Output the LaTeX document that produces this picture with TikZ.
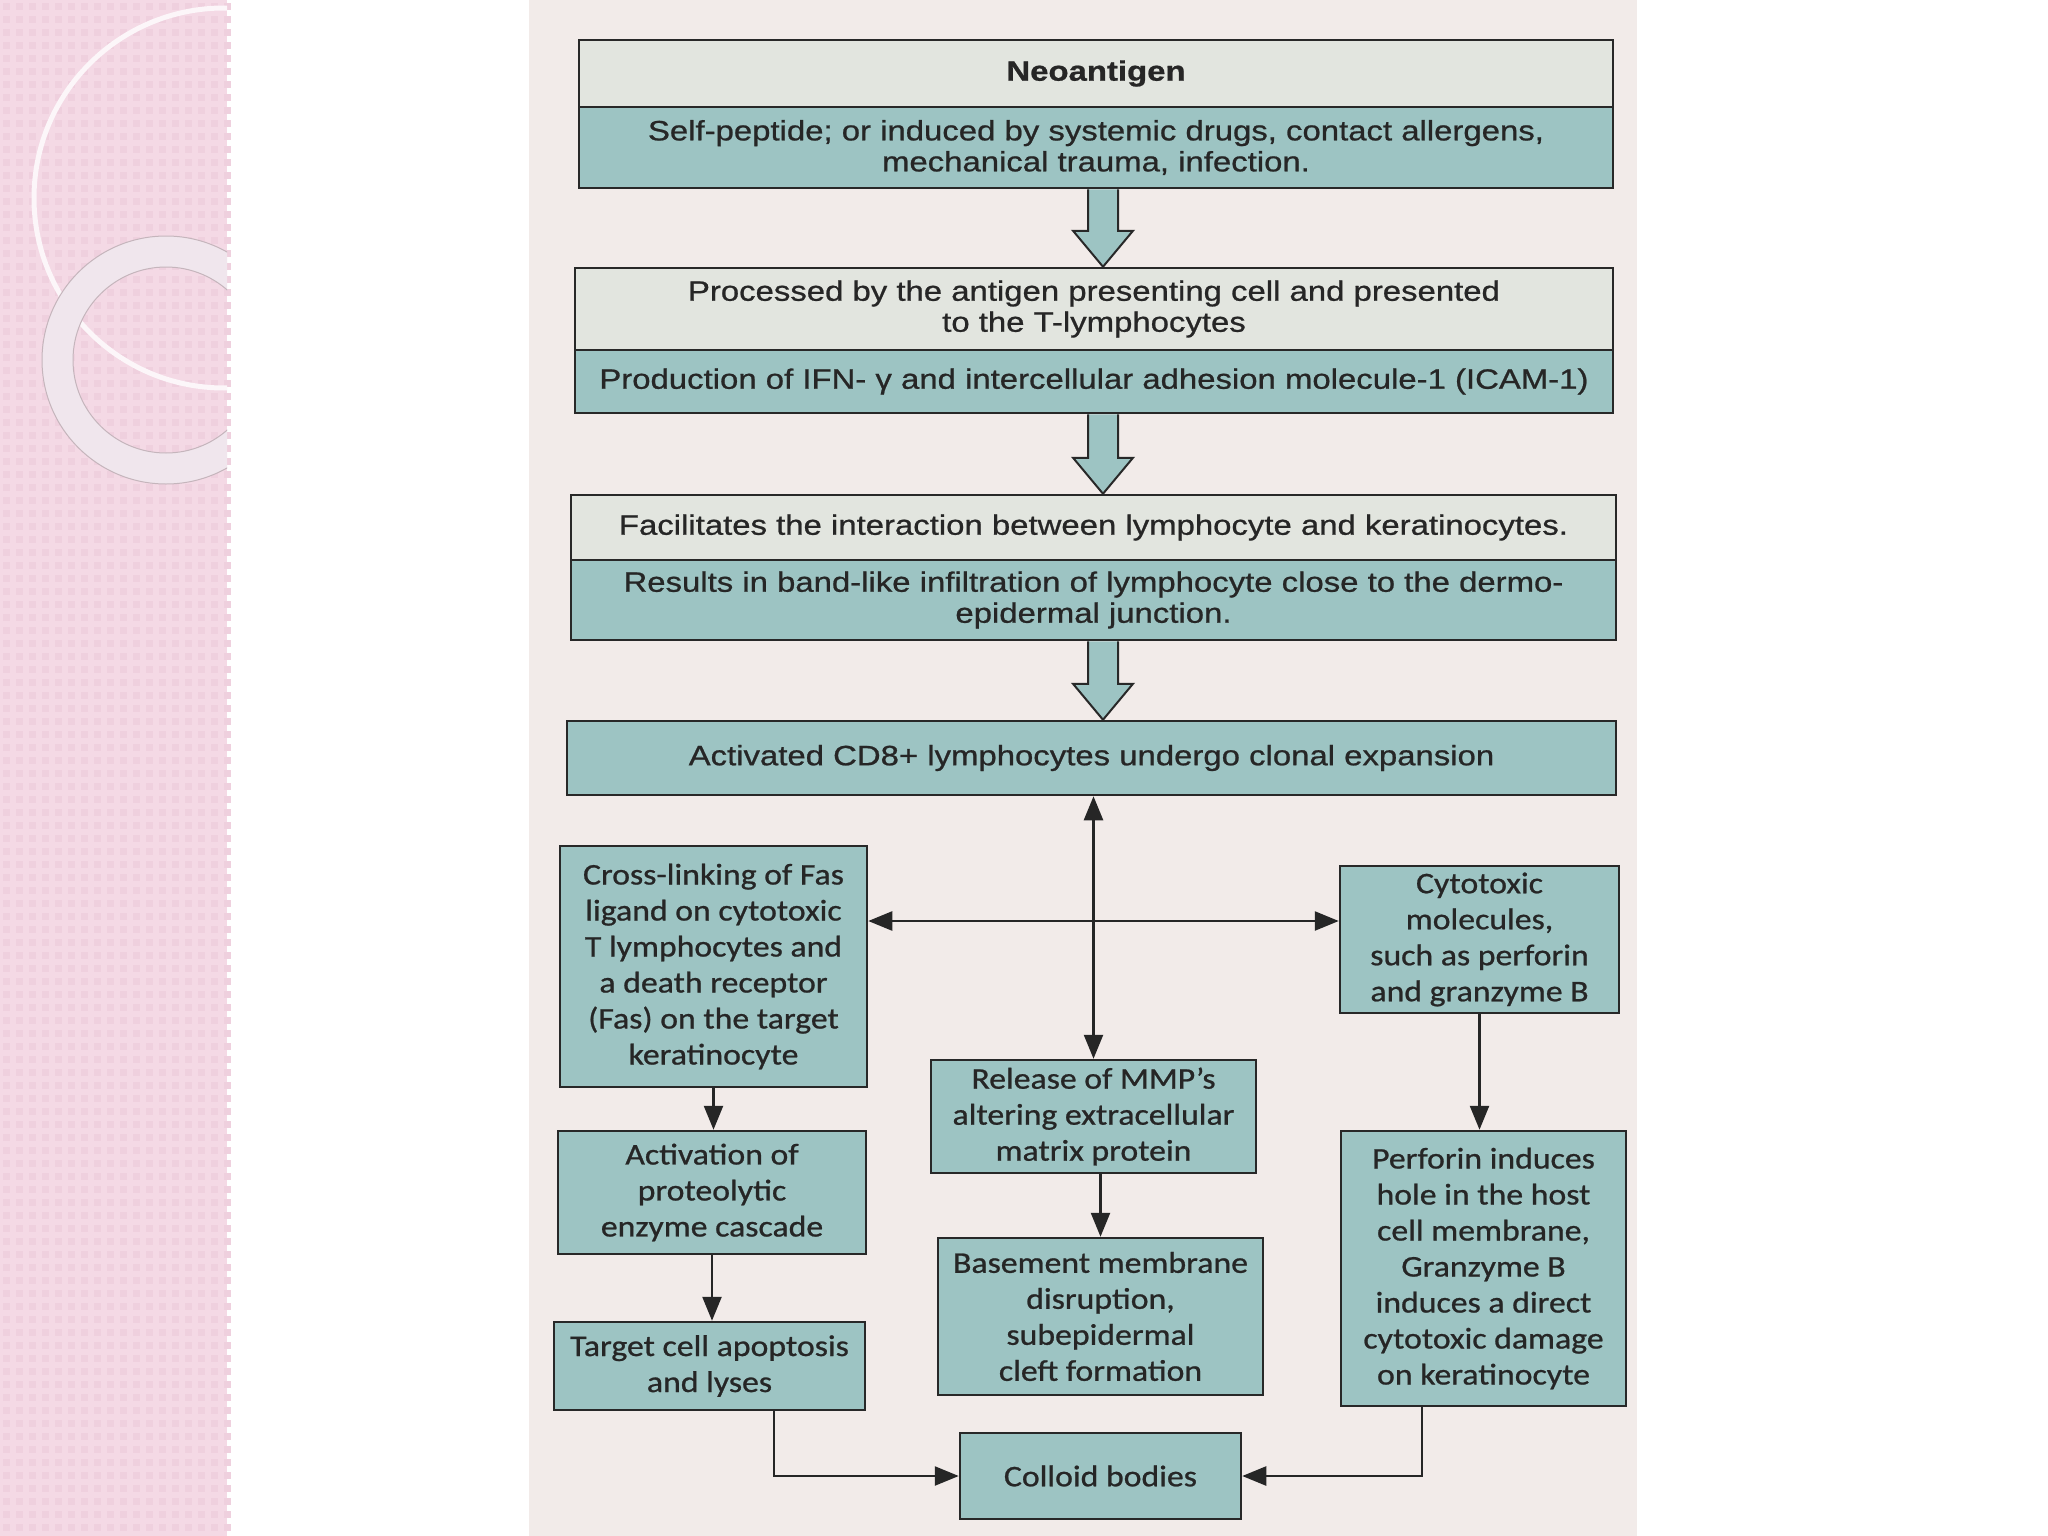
\documentclass[tikz,border=0pt]{standalone}
\usepackage{fontspec}
\setmainfont{Liberation Sans}[FakeStretch=1.175,FakeBold=0.8]
\newfontfamily\calib{Carlito}[FakeStretch=1.125,FakeBold=0.8]
\usetikzlibrary{arrows.meta,calc}
\definecolor{pinkbg}{RGB}{244,217,229}
\definecolor{pinkdot}{RGB}{239,208,222}
\definecolor{pagebg}{RGB}{242,235,233}
\definecolor{tealf}{RGB}{157,196,195}
\definecolor{lightf}{RGB}{226,229,223}
\definecolor{ringc}{RGB}{240,230,237}
\definecolor{edgec}{RGB}{40,40,40}
\begin{document}
\begin{tikzpicture}[x=1pt,y=-1pt,
 hdr/.style={draw=edgec,line width=2.5pt,fill=lightf,align=center,inner sep=0pt,text=black!85,font=\fontsize{28}{31}\selectfont},
 tl/.style={hdr,fill=tealf},
 lb/.style={draw=edgec,line width=2.5pt,fill=tealf,align=center,inner sep=0pt,text=black!85,font=\calib\fontsize{30}{36}\selectfont},
 conn/.style={line width=2.5pt,draw=black!85},
 tip/.style={-{Triangle[length=24pt,width=19pt]}},
 dtip/.style={{Triangle[length=24pt,width=19pt]}-{Triangle[length=24pt,width=19pt]}},
 fat/.style={fill=tealf,draw=edgec,line width=2pt}
]
\useasboundingbox (0,0) rectangle (2048,1536);
\fill[white] (0,0) rectangle (2048,1536);
\fill[pagebg] (529,0) rectangle (1637,1536);
% pink side panel
\fill[pinkbg] (0,0) rectangle (227,1536);
\foreach \i in {0,...,17}{\foreach \j in {0,...,118}{
  \fill[pinkdot] (\i*13+3,\j*13+3) rectangle +(7,7);}}
\begin{scope}
\clip (0,0) rectangle (227,1536);
\draw[white!75!pinkbg, line width=5pt] (224,198) circle (190pt);
\draw[ringc, line width=31pt] (166,360) circle (108.5pt);
\draw[pinkbg!60!gray, line width=1pt] (166,360) circle (124pt);
\draw[pinkbg!60!gray, line width=1pt] (166,360) circle (93pt);
\end{scope}
\coordinate (ax) at (1103,0);
% top boxes
\node[hdr, minimum width=1034pt, minimum height=67pt] (b1h) at (1096,73.5) {\bfseries Neoantigen};
\node[tl, minimum width=1034pt, minimum height=81pt] (b1t) at (1096,147.5) {Self-peptide; or induced by systemic drugs, contact allergens,\\ mechanical trauma, infection.};
\node[hdr, minimum width=1038pt, minimum height=82pt] (b2h) at (1094,309) {Processed by the antigen presenting cell and presented\\ to the T-lymphocytes};
\node[tl, minimum width=1038pt, minimum height=63pt] (b2t) at (1094,381.5) {Production of IFN- γ and intercellular adhesion molecule-1 (ICAM-1)};
\node[hdr, minimum width=1045pt, minimum height=65pt] (b3h) at (1093.5,527.5) {Facilitates the interaction between lymphocyte and keratinocytes.};
\node[tl, minimum width=1045pt, minimum height=80pt] (b3t) at (1093.5,600) {Results in band-like infiltration of lymphocyte close to the dermo-\\ epidermal junction.};
\node[tl, minimum width=1049pt, minimum height=74pt] (b4) at (1091.5,758) {Activated CD8+ lymphocytes undergo clonal expansion};
% fat arrows
\foreach \a/\b in {b1t/b2h, b2t/b3h, b3t/b4}{
 \filldraw[fat] let \p1=(ax|-\a.south), \p2=(ax|-\b.north) in
  (\x1-15pt,\y1) -- (\x1-15pt,\y2+36pt) -- (\x1-30pt,\y2+36pt) -- (\x1,\y2)
  -- (\x1+30pt,\y2+36pt) -- (\x1+15pt,\y2+36pt) -- (\x1+15pt,\y1);
}
% lower boxes
\node[lb, minimum width=307pt, minimum height=241pt] (A) at (713.5,966.5) {Cross-linking of Fas\\ ligand on cytotoxic\\ T lymphocytes and\\ a death receptor\\ (Fas) on the target\\ keratinocyte};
\node[lb, minimum width=279pt, minimum height=147pt] (B) at (1479.5,939.5) {Cytotoxic\\ molecules,\\ such as perforin\\ and granzyme B};
\node[lb, minimum width=325pt, minimum height=113pt] (C) at (1093.5,1116.5) {Release of MMP’s\\ altering extracellular\\ matrix protein};
\node[lb, minimum width=308pt, minimum height=123pt] (D) at (712,1192.5) {Activation of\\ proteolytic\\ enzyme cascade};
\node[lb, minimum width=325pt, minimum height=157pt] (E) at (1100.5,1316.5) {Basement membrane\\ disruption,\\ subepidermal\\ cleft formation};
\node[lb, minimum width=285pt, minimum height=275pt] (F) at (1483.5,1268.5) {Perforin induces\\ hole in the host\\ cell membrane,\\ Granzyme B\\ induces a direct\\ cytotoxic damage\\ on keratinocyte};
\node[lb, minimum width=311pt, minimum height=88pt] (G) at (709.5,1366) {Target cell apoptosis\\ and lyses};
\node[lb, minimum width=281pt, minimum height=86pt] (H) at (1100.5,1476) {Colloid bodies};
% connectors
\coordinate (hy) at (0,921);
\coordinate (gx) at (774,0);
\coordinate (fx) at (1422,0);
\draw[conn,dtip] (b4.south -| C.north) -- (C.north);
\draw[conn,dtip] (A.east |- hy) -- (B.west |- hy);
\draw[conn,tip] (A.south) -- (A.south |- D.north);
\draw[conn,tip] (D.south) -- (D.south |- G.north);
\draw[conn,tip] (C.south -| E.north) -- (E.north);
\draw[conn,tip] (B.south) -- (B.south |- F.north);
\draw[conn,tip] (G.south -| gx) |- (H.west);
\draw[conn,tip] (F.south -| fx) |- (H.east);
\end{tikzpicture}
\end{document}
